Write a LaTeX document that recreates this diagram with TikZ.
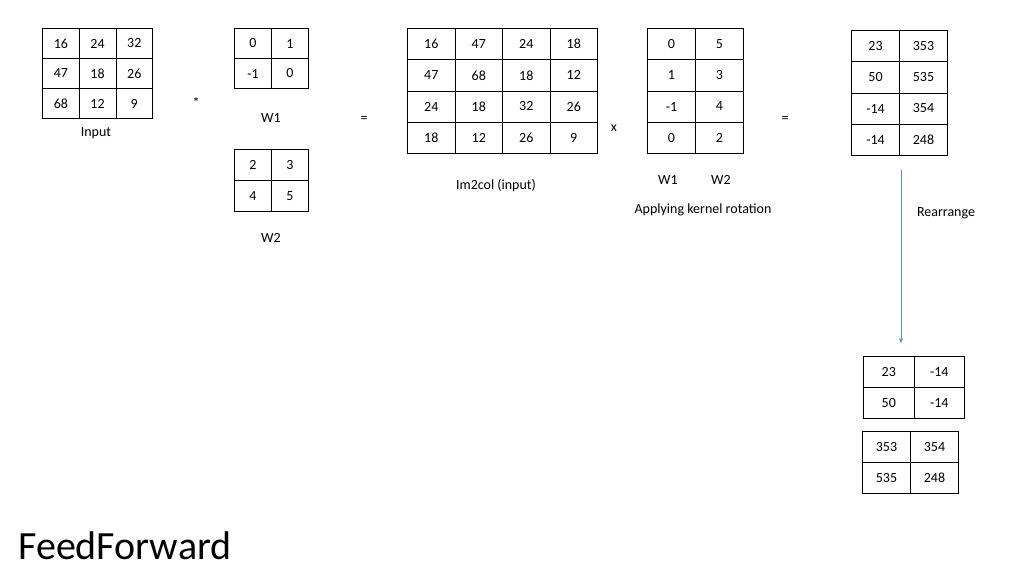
\documentclass[tikz,border=0pt]{standalone}
\usepackage{fontspec}
\setmainfont{Carlito}
\usetikzlibrary{matrix,arrows.meta}
\begin{document}
\begin{tikzpicture}[x=1pt,y=-1pt,
  mat/.style={matrix of nodes, inner sep=0pt, column sep=-0.6pt, row sep=-0.6pt,
    nodes={draw, line width=0.6pt, anchor=center, inner sep=0pt, font=\fontsize{14}{16}\selectfont}},
  lbl/.style={font=\fontsize{14}{16}\selectfont, inner sep=0pt}]
\useasboundingbox (0,0) rectangle (1024,576);
\matrix (in) [mat, anchor=north west, nodes={minimum width=36.7pt, minimum height=30pt}] at (42,28)
{16 & 24 & 32\\ 47 & 18 & 26\\ 68 & 12 & 9\\};
\node[lbl] (inl) at (96,133) {Input};
\node[lbl] (star) at (196,103) {*};
\matrix (w1) [mat, anchor=north west, nodes={minimum width=37pt, minimum height=30pt}] at (234,28)
{0 & 1\\ -1 & 0\\};
\node[lbl] (w1l) at (271,118) {W1};
\matrix (w2) [mat, anchor=north west, nodes={minimum width=37pt, minimum height=31pt}] at (234,149)
{2 & 3\\ 4 & 5\\};
\node[lbl] (w2l) at (271,238) {W2};
\node[lbl] (eq1) at (364,119) {=};
\matrix (im) [mat, anchor=north west, nodes={minimum width=47.5pt, minimum height=31.2pt}] at (407,28)
{16 & 47 & 24 & 18\\ 47 & 68 & 18 & 12\\ 24 & 18 & 32 & 26\\ 18 & 12 & 26 & 9\\};
\node[lbl] (iml) at (496,186) {Im2col (input)};
\node[lbl] (x) at (614,128) {x};
\matrix (k) [mat, anchor=north west, nodes={minimum width=48pt, minimum height=31.2pt}] at (647,28)
{0 & 5\\ 1 & 3\\ -1 & 4\\ 0 & 2\\};
\node[lbl] (kl1) at (668,180) {W1};
\node[lbl] (kl2) at (721,180) {W2};
\node[lbl] (kl) at (703,210) {Applying kernel rotation};
\node[lbl] (eq2) at (785,119) {=};
\matrix (res) [mat, anchor=north west, nodes={minimum width=48pt, minimum height=31.2pt}] at (851,30)
{23 & 353\\ 50 & 535\\ -14 & 354\\ -14 & 248\\};
\node[lbl] (rl) at (946,213) {Rearrange};
\coordinate (a1) at (901,170);
\coordinate (a2) at (901,343);
\draw[-{Stealth[length=5pt,width=4pt]}, color={rgb,255:red,91;green,140;blue,200}, line width=0.8pt] (a1) -- (a2);
\matrix (b1) [mat, anchor=north west, nodes={minimum width=50.5pt, minimum height=31pt}] at (863,356)
{23 & -14\\ 50 & -14\\};
\matrix (b2) [mat, anchor=north west, nodes={minimum width=48pt, minimum height=31pt}] at (862,431)
{353 & 354\\ 535 & 248\\};
\node[font=\fontsize{40}{44}\selectfont, inner sep=0pt] (ff) at (125,546) {FeedForward};
\end{tikzpicture}
\end{document}
